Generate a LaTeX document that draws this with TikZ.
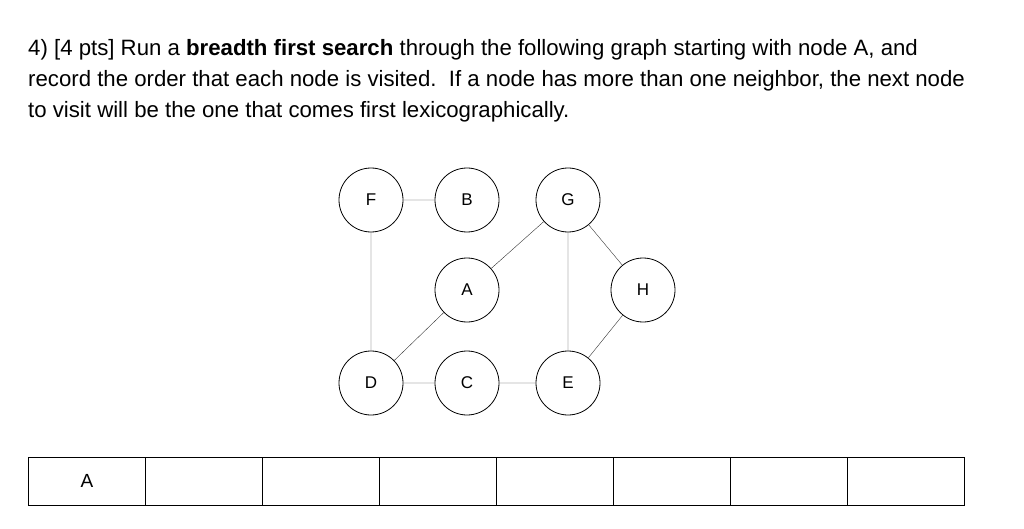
\documentclass[tikz,border=0pt]{standalone}
\usepackage{fontspec}
\setmainfont{Liberation Sans}
\begin{document}
\begin{tikzpicture}[x=1pt,y=-1pt,
  vtx/.style={circle,draw,thick,minimum size=64pt,inner sep=0pt,font=\fontsize{17}{19}\selectfont},
  edge/.style={draw,gray!40!black},
  txt/.style={anchor=base west,inner sep=0pt,font=\fontsize{22.2}{25}\selectfont},
  cell/.style={draw,thick,minimum width=117pt,minimum height=48pt,inner sep=0pt,anchor=north west,font=\fontsize{19}{21}\selectfont}]
\useasboundingbox (0,0) rectangle (1024,529);
\node[txt] (l1) at (28,56) {4) [4 pts] Run a \textbf{breadth first search} through the following graph starting with node A, and};
\node[txt] (l2) at (28,87) {record the order that each node is visited.\ \ If a node has more than one neighbor, the next node};
\node[txt] (l3) at (28,118) {to visit will be the one that comes first lexicographically.};
\node[vtx] (F) at (371,200) {F};
\node[vtx] (B) at (467,200) {B};
\node[vtx] (G) at (568,200) {G};
\node[vtx] (A) at (467,290) {A};
\node[vtx] (H) at (643,290) {H};
\node[vtx] (D) at (371,383) {D};
\node[vtx] (C) at (467,383) {C};
\node[vtx] (E) at (568,383) {E};
\draw[edge] (F)--(B) (F)--(D) (D)--(A) (A)--(G) (G)--(E) (G)--(H) (H)--(E) (D)--(C) (C)--(E);
\foreach \i/\t in {0/A,1/,2/,3/,4/,5/,6/,7/}
  \node[cell] (c\i) at (28+117*\i,457) {\t};
\end{tikzpicture}
\end{document}
